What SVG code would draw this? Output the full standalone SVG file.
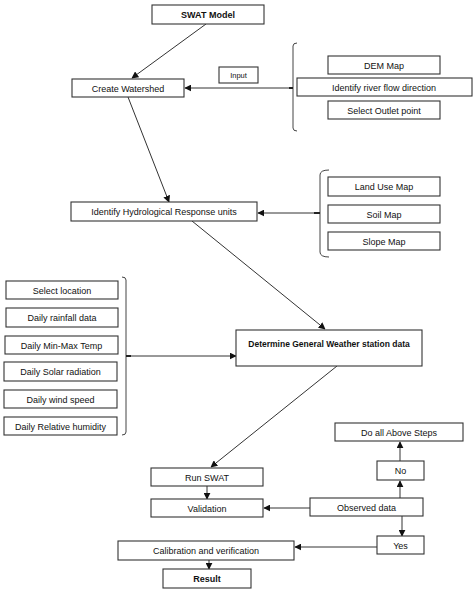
<svg xmlns="http://www.w3.org/2000/svg" width="474" height="590" viewBox="0 0 474 590">
<style>
.box{fill:#fff;stroke:#333;stroke-width:1.1}
.t{font-family:"Liberation Sans",Arial,sans-serif;font-size:9px;fill:#111;text-anchor:middle;dominant-baseline:central}
.b{font-weight:bold}
.sm{font-size:7.5px}
.ln{fill:none;stroke:#333;stroke-width:1}
.br{fill:none;stroke:#444;stroke-width:1}
</style>
<defs>
<marker id="ah" viewBox="0 0 10 10" refX="9" refY="5" markerWidth="7" markerHeight="7" markerUnits="userSpaceOnUse" orient="auto">
<path d="M0,0 L10,5 L0,10 z" fill="#111"/>
</marker>
</defs>
<rect width="474" height="590" fill="#fff"/>
<g id="connectors">
<line class="ln" x1="206" y1="24" x2="132" y2="78" marker-end="url(#ah)"/>
<line class="ln" x1="289" y1="88" x2="185" y2="88" marker-end="url(#ah)"/>
<line class="ln" x1="128" y1="97" x2="169" y2="202" marker-end="url(#ah)"/>
<line class="ln" x1="317" y1="213" x2="258" y2="213" marker-end="url(#ah)"/>
<line class="ln" x1="192" y1="221" x2="325" y2="329" marker-end="url(#ah)"/>
<line class="ln" x1="130" y1="356" x2="236" y2="356" marker-end="url(#ah)"/>
<line class="ln" x1="337" y1="366" x2="211" y2="467" marker-end="url(#ah)"/>
<line class="ln" x1="207" y1="486" x2="207" y2="499" marker-end="url(#ah)"/>
<line class="ln" x1="310" y1="508" x2="264" y2="508" marker-end="url(#ah)"/>
<line class="ln" x1="400" y1="498" x2="400" y2="481" marker-end="url(#ah)"/>
<line class="ln" x1="400" y1="461" x2="400" y2="442" marker-end="url(#ah)"/>
<line class="ln" x1="402" y1="516" x2="402" y2="536" marker-end="url(#ah)"/>
<line class="ln" x1="377" y1="547" x2="295" y2="547" marker-end="url(#ah)"/>
<line class="ln" x1="209" y1="560" x2="209" y2="569" marker-end="url(#ah)"/>
</g>
<g id="bracket-watershed">
<path class="br" d="M297,43 Q293,43 293,46 L293,128 Q293,131 297,131"/>
<line x1="289" y1="88" x2="293" y2="88" stroke="#222" stroke-width="2"/>
</g>
<g id="bracket-hru">
<path class="br" d="M329,170 Q320,170 320,175 L320,252 Q320,257 329,257"/>
<line x1="314" y1="213" x2="320" y2="213" stroke="#222" stroke-width="2"/>
</g>
<g id="bracket-weather">
<path class="br" d="M122,277 Q126,277 126,280 L126,432 Q126,435 122,435"/>
<line x1="126" y1="356" x2="131" y2="356" stroke="#222" stroke-width="2"/>
</g>
<g id="swat-model"><rect class="box" x="152" y="5" width="112" height="19"/><text class="t b" x="208" y="15">SWAT Model</text></g>
<g id="create-watershed"><rect class="box" x="72" y="79" width="112" height="18"/><text class="t" x="128" y="88.5">Create Watershed</text></g>
<g id="input"><rect class="box" x="219" y="67" width="39" height="16"/><text class="t sm" x="238.5" y="75.5">Input</text></g>
<g id="dem-map"><rect class="box" x="328" y="56" width="112" height="18"/><text class="t" x="384" y="65.5">DEM Map</text></g>
<g id="river-flow"><rect class="box" x="297" y="78" width="175" height="18"/><text class="t" x="384" y="87.5">Identify river flow direction</text></g>
<g id="outlet-point"><rect class="box" x="328" y="101" width="112" height="18"/><text class="t" x="384" y="110.5">Select Outlet point</text></g>
<g id="hru"><rect class="box" x="71" y="202" width="186" height="19"/><text class="t" x="164" y="212">Identify Hydrological Response units</text></g>
<g id="land-use"><rect class="box" x="328" y="177" width="112" height="19"/><text class="t" x="384" y="187">Land Use Map</text></g>
<g id="soil-map"><rect class="box" x="328" y="205" width="112" height="18"/><text class="t" x="384" y="214.5">Soil Map</text></g>
<g id="slope-map"><rect class="box" x="328" y="232" width="112" height="18"/><text class="t" x="384" y="241.5">Slope Map</text></g>
<g id="weather"><rect class="box" x="236" y="330" width="186" height="36"/><text class="t b" x="329" y="344" style="font-size:8.5px">Determine General Weather station data</text></g>
<g id="select-location"><rect class="box" x="6" y="281" width="112" height="18"/><text class="t" x="62" y="290.5">Select location</text></g>
<g id="rainfall"><rect class="box" x="6" y="308" width="112" height="19"/><text class="t" x="62" y="318">Daily rainfall data</text></g>
<g id="temp"><rect class="box" x="5" y="336" width="113" height="18"/><text class="t" x="61.5" y="345.5">Daily Min-Max Temp</text></g>
<g id="solar"><rect class="box" x="4" y="362" width="113" height="19"/><text class="t" x="60.5" y="372">Daily Solar radiation</text></g>
<g id="wind"><rect class="box" x="4" y="390" width="113" height="18"/><text class="t" x="60.5" y="399.5">Daily wind speed</text></g>
<g id="humidity"><rect class="box" x="4" y="417" width="113" height="18"/><text class="t" x="60.5" y="426.5">Daily Relative humidity</text></g>
<g id="do-all"><rect class="box" x="335" y="423" width="128" height="18"/><text class="t" x="399" y="432.5">Do all Above Steps</text></g>
<g id="no"><rect class="box" x="377" y="461" width="47" height="19"/><text class="t" x="400.5" y="471">No</text></g>
<g id="run-swat"><rect class="box" x="151" y="468" width="112" height="18"/><text class="t" x="207" y="477.5">Run SWAT</text></g>
<g id="validation"><rect class="box" x="151" y="499" width="112" height="18"/><text class="t" x="207" y="508.5">Validation</text></g>
<g id="observed"><rect class="box" x="310" y="498" width="113" height="18"/><text class="t" x="366.5" y="507.5">Observed data</text></g>
<g id="yes"><rect class="box" x="377" y="536" width="47" height="18"/><text class="t" x="400.5" y="545.5">Yes</text></g>
<g id="calibration"><rect class="box" x="118" y="541" width="176" height="19"/><text class="t" x="206" y="551">Calibration and verification</text></g>
<g id="result"><rect class="box" x="163" y="569" width="88" height="19"/><text class="t b" x="207" y="579">Result</text></g>
</svg>
